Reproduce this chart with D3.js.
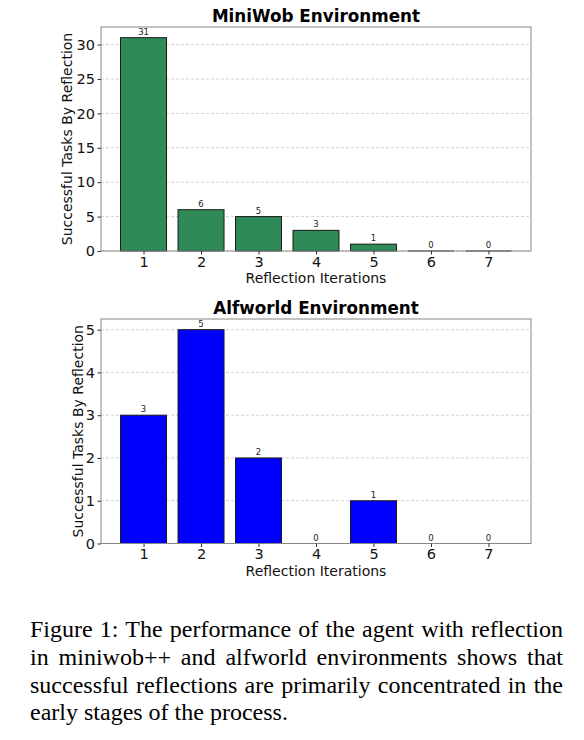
<!DOCTYPE html>
<html><head><meta charset="utf-8">
<script src="https://cdn.jsdelivr.net/npm/d3@7/dist/d3.min.js"></script>
<style>body{margin:0;background:#fff}svg{display:block}</style>
</head><body>
<svg id="c" width="584" height="740"></svg>
<script>
const categories = [1, 2, 3, 4, 5, 6, 7];
const miniwobValues = [31, 6, 5, 3, 1, 0, 0];
const alfworldValues = [3, 5, 2, 0, 1, 0, 0];
const miniwobTicks = [0, 5, 10, 15, 20, 25, 30];
const alfworldTicks = [0, 1, 2, 3, 4, 5];
const captionLines = [
  "Figure 1: The performance of the agent with reflection",
  "in miniwob++ and alfworld environments shows that",
  "successful reflections are primarily concentrated in the",
  "early stages of the process."
];

const svg = d3.select("#c");
const font = "DejaVu Sans, sans-serif";

function panel(cfg) {
  const g = svg.append("g");
  const x = d3.scaleLinear().domain([0.26, 7.74]).range([101, 531]);
  const maxV = d3.max(cfg.values) * 1.05;
  const y = d3.scaleLinear().domain([0, maxV]).range([cfg.bottom, cfg.top]);
  // grid
  g.selectAll(".grid").data(cfg.ticks).join("line")
    .attr("x1", 101).attr("x2", 531)
    .attr("y1", d => y(d)).attr("y2", d => y(d))
    .attr("stroke", "#b0b0b0").attr("stroke-opacity", 0.7)
    .attr("stroke-width", 0.8).attr("stroke-dasharray", "3,2");
  // bars
  const bw = x(1.4) - x(0.6);
  g.selectAll(".bar").data(categories).join("rect")
    .attr("x", (d) => x(d - 0.4))
    .attr("width", bw)
    .attr("y", (d, i) => y(cfg.values[i]))
    .attr("height", (d, i) => y(0) - y(cfg.values[i]))
    .attr("fill", cfg.color).attr("stroke", "#1a1a1a").attr("stroke-width", 1);
  // zero bars edge
  g.selectAll(".zb").data(categories.filter((d, i) => cfg.values[i] === 0)).join("line")
    .attr("x1", d => x(d - 0.4)).attr("x2", d => x(d + 0.4))
    .attr("y1", y(0)).attr("y2", y(0)).attr("stroke", "#1a1a1a").attr("stroke-width", 1);
  // value labels
  g.selectAll(".vl").data(categories).join("text")
    .attr("x", d => x(d))
    .attr("y", (d, i) => y(cfg.values[i]) - 3)
    .attr("text-anchor", "middle").attr("font-family", font).attr("font-size", 8.5)
    .attr("fill", "#222")
    .text((d, i) => cfg.values[i]);
  // spines
  g.append("rect").attr("x", 101).attr("y", cfg.top).attr("width", 430)
    .attr("height", cfg.bottom - cfg.top).attr("fill", "none")
    .attr("stroke", "#888").attr("stroke-width", 1);
  // axes
  const ya = d3.axisLeft(y).tickValues(cfg.ticks).tickFormat(d3.format("d")).tickSize(3.5).tickPadding(2.5);
  const yg = g.append("g").attr("transform", "translate(101,0)").call(ya);
  yg.select(".domain").remove();
  yg.selectAll("text").attr("font-family", font).attr("font-size", 14.5).attr("fill", "#111");
  yg.selectAll("line").attr("stroke", "#333");
  const xa = d3.axisBottom(x).tickValues(categories).tickSize(3.5).tickPadding(2);
  const xg = g.append("g").attr("transform", `translate(0,${cfg.bottom})`).call(xa);
  xg.select(".domain").remove();
  xg.selectAll("text").attr("font-family", font).attr("font-size", 14.5).attr("fill", "#111");
  xg.selectAll("line").attr("stroke", "#333");
  // labels
  g.append("text").attr("x", 316).attr("y", cfg.top - 5).attr("text-anchor", "middle")
    .attr("font-family", font).attr("font-weight", "bold").attr("font-size", 16.8)
    .attr("fill", "#000").text(cfg.title);
  g.append("text").attr("x", 316).attr("y", cfg.bottom + 32).attr("text-anchor", "middle")
    .attr("font-family", font).attr("font-size", 14).attr("fill", "#111")
    .text("Reflection Iterations");
  g.append("text")
    .attr("transform", `translate(${cfg.ylabelX},${(cfg.top + cfg.bottom) / 2}) rotate(-90)`)
    .attr("text-anchor", "middle")
    .attr("font-family", font).attr("font-size", cfg.ylabelSize).attr("fill", "#111")
    .text("Successful Tasks By Reflection");
}

panel({values: miniwobValues, ticks: miniwobTicks, top: 27, bottom: 251, color: "#2e8b57",
       title: "MiniWob Environment", ylabelSize: 14, ylabelX: 72});
panel({values: alfworldValues, ticks: alfworldTicks, top: 319, bottom: 543.5, color: "#0000ff",
       title: "Alfworld Environment", ylabelSize: 14, ylabelX: 83});

// caption
const cap = svg.append("g");
const baselines = [637, 665, 693, 720];
captionLines.forEach((line, i) => {
  const t = cap.append("text").attr("x", 30).attr("y", baselines[i])
    .attr("font-family", "Liberation Serif, Times New Roman, serif")
    .attr("font-size", 24).attr("fill", "#000").text(line);
  if (i < captionLines.length - 1) {
    const w = t.node().getComputedTextLength();
    const gaps = line.split(" ").length - 1;
    const extra = (563 - 30 - w) / gaps;
    t.attr("word-spacing", extra);
  }
});
</script>
</body></html>
